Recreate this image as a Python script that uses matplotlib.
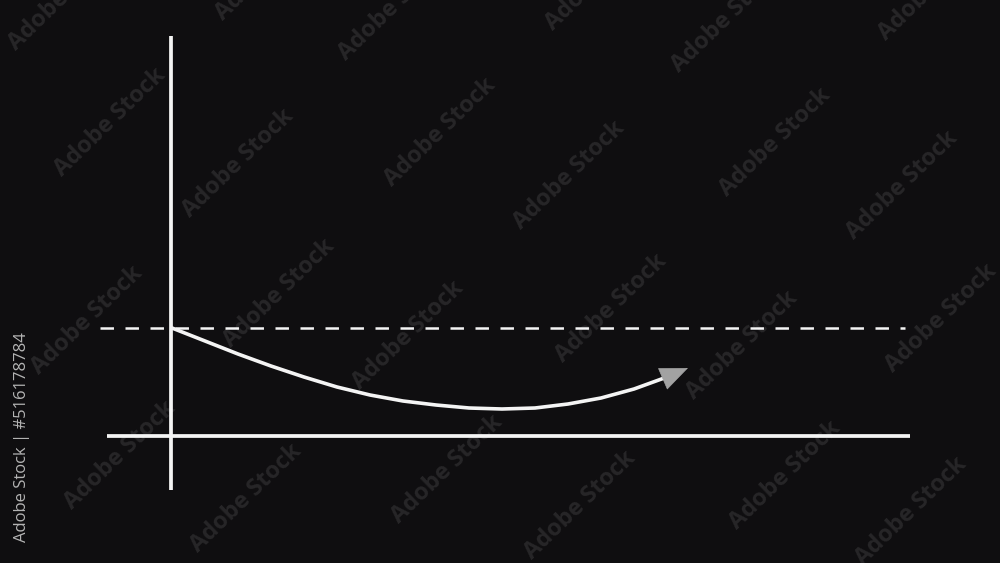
import numpy as np
import matplotlib
matplotlib.use("Agg")
import matplotlib.pyplot as plt
from matplotlib.patches import ArrowStyle

# curve points (x = time, y = level), origin at the axes crossing
curve_x = [0.01, 0.34, 0.67, 1.00, 1.33, 1.66, 1.99, 2.32, 2.65, 2.98, 3.31, 3.64, 3.97, 4.30, 4.63, 4.96]
curve_y = [1.08, 0.95, 0.82, 0.70, 0.59, 0.49, 0.41, 0.35, 0.31, 0.28, 0.27, 0.28, 0.32, 0.38, 0.47, 0.59]
arrow_tip = (5.17, 0.68)
ref_level = 1.08
ref_span = (-0.71, 7.34)
x_axis_span = (-0.64, 7.39)
y_axis_span = (-0.54, 4.00)

wm_text = "Adobe Stock"
side_text = "Adobe Stock | #516178784"
# watermark centres, pixels from top-left
wm_x = [64, 394, 727, 110, 440, 775, 87, 408, 742, 120, 447, 785,
        271, 601, 934, 238, 569, 902, 279, 611, 941, 246, 580, 911]
wm_y = [-4, 6, 18, 122, 132, 142, 320, 335, 345, 455, 469, 475,
        -34, -24, -14, 163, 175, 185, 293, 308, 318, 498, 505, 511]

bg = "#0f0e10"
fg = "#f4f4f4"

plt.rcParams["lines.scale_dashes"] = False
fig = plt.figure(figsize=(10, 5.63), dpi=100, facecolor=bg)
ax = fig.add_axes([0, 0, 1, 1])
ax.set_facecolor(bg)
ax.set_xlim(-1.71, 8.29)
ax.set_ylim(-1.27, 4.36)
ax.axis("off")

ax.plot([0, 0], y_axis_span, color=fg, lw=2.7, solid_capstyle="butt")
ax.plot(x_axis_span, [0, 0], color=fg, lw=2.7, solid_capstyle="butt")
ax.plot(ref_span, [ref_level, ref_level], color=fg, lw=1.8,
        linestyle=(0, (9.7, 8.3)), dash_capstyle="butt")

ax.plot(curve_x, curve_y, color=fg, lw=2.6, solid_capstyle="round",
        solid_joinstyle="round")
ax.annotate("", xy=arrow_tip, xytext=(curve_x[-1], curve_y[-1]),
            arrowprops=dict(arrowstyle=ArrowStyle("-|>", head_length=1.0, head_width=0.42),
                            mutation_scale=19, color="#a2a2a2", lw=0.5,
                            shrinkA=0, shrinkB=0))

for x, y in zip(wm_x, wm_y):
    fig.text(x / 1000, 1 - y / 563, wm_text, color="white", alpha=0.1,
             fontsize=17, fontweight="bold", family="Open Sans",
             rotation=44, ha="center", va="center", rotation_mode="anchor")

fig.text(0.022, 1 - 437 / 563, side_text, color="#b4b4b4", fontsize=12,
         family="Open Sans", rotation=90, ha="center", va="center")

fig.savefig("out.png", dpi=100, facecolor=bg)
